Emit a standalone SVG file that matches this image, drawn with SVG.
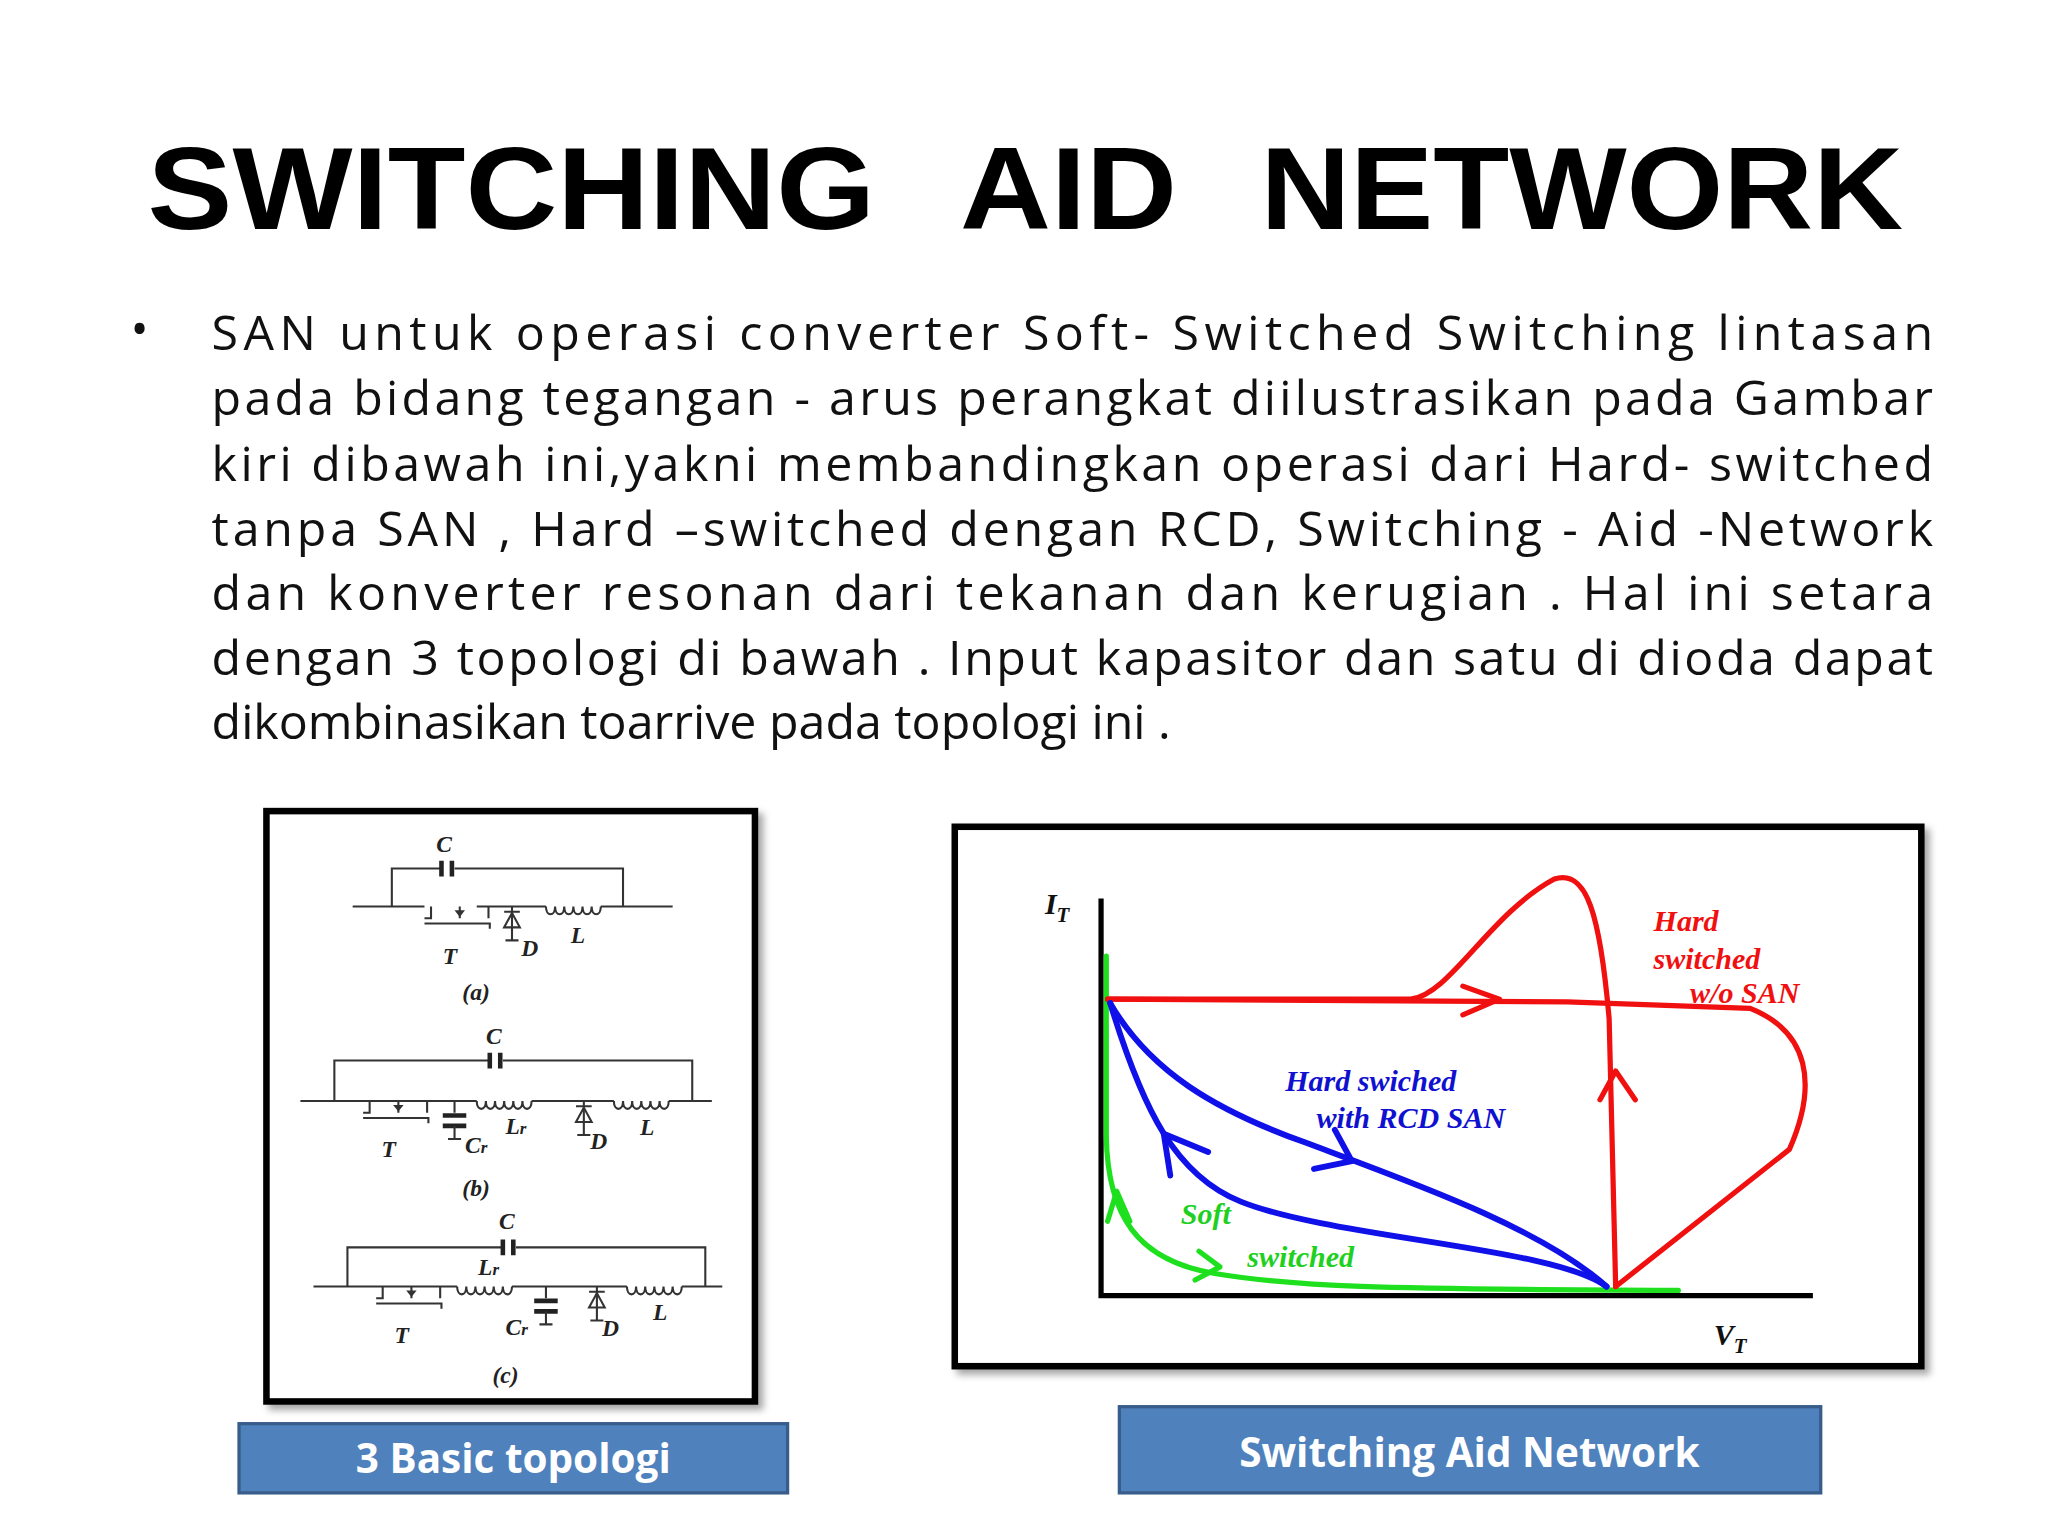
<svg xmlns="http://www.w3.org/2000/svg" width="2048" height="1536" viewBox="0 0 2048 1536">
<defs>
<style>
.w{fill:none;stroke:#333;stroke-width:1.6}
.lab{font-family:"Liberation Serif",serif;font-style:italic;font-weight:bold;font-size:18px;fill:#222}
.body{font-family:"Open Sans","DejaVu Sans",sans-serif;font-size:37px;fill:#111}
.cap{font-family:"Open Sans","Liberation Sans",sans-serif;font-weight:bold;font-size:31px;fill:#fff;text-anchor:middle}
.cl{font-family:"Liberation Serif",serif;font-style:italic;font-weight:bold;font-size:23px}
.tt{font-family:"Liberation Sans",Arial,sans-serif;font-weight:bold;font-size:90px;fill:#000}
.r{fill:none;stroke:#f01010;stroke-width:4;stroke-linecap:round;stroke-linejoin:round}
.b{fill:none;stroke:#1010e8;stroke-width:4.5;stroke-linecap:round;stroke-linejoin:round}
.g{fill:none;stroke:#1ee01e;stroke-width:4;stroke-linecap:round;stroke-linejoin:round}
</style>
<g id="ind"><path class="w" d="M0,0 c0,8 7,8 7,0 c0,8 7,8 7,0 c0,8 7,8 7,0 c0,8 7,8 7,0 c0,8 7,8 7,0 c0,8 7,8 7,0"/></g>
<g id="tr"><path class="w" d="M0,0 v9 h-5 M22,0 v9 M44,0 v9 M-5,13 h50 v4"/><path d="M18,3 h8 l-4,5z" fill="#333"/></g>
<g id="di"><path class="w" d="M0,0 v26 M-5,26 h10 M-6,4 h12"/><path class="w" d="M-6,16 L0,5 L6,16z"/></g>
<g id="cp"><path d="M-5,-6 v12 M3,-6 v12" stroke="#222" stroke-width="3.5"/></g>
<g id="cv"><path d="M-9,-4 h18 M-9,4 h18" stroke="#222" stroke-width="3.5"/></g>
<filter id="sh" x="-5%" y="-5%" width="115%" height="115%"><feDropShadow dx="4" dy="4" stdDeviation="3" flood-opacity="0.35"/></filter>
</defs>
<rect width="2048" height="1536" fill="#fff"/>
<g transform="scale(1.30612)">
<g id="title"><text class="tt" x="113" y="175" textLength="557" lengthAdjust="spacingAndGlyphs">SWITCHING</text><text class="tt" x="735" y="175" textLength="166" lengthAdjust="spacingAndGlyphs">AID</text><text class="tt" x="965" y="175" textLength="492" lengthAdjust="spacingAndGlyphs">NETWORK</text></g>
<g id="bullet" class="body">
<text x="100" y="265">•</text>
<text x="162" y="268" textLength="1318" lengthAdjust="spacing">SAN untuk operasi converter Soft- Switched Switching lintasan</text>
<text x="162" y="318" textLength="1318" lengthAdjust="spacing">pada bidang tegangan - arus perangkat diilustrasikan pada Gambar</text>
<text x="162" y="368" textLength="1318" lengthAdjust="spacing">kiri dibawah ini,yakni  membandingkan operasi dari Hard- switched</text>
<text x="162" y="418" textLength="1318" lengthAdjust="spacing">tanpa SAN , Hard –switched dengan RCD, Switching - Aid -Network</text>
<text x="162" y="467" textLength="1318" lengthAdjust="spacing">dan konverter resonan dari tekanan dan kerugian . Hal ini setara</text>
<text x="162" y="517" textLength="1318" lengthAdjust="spacing">dengan 3 topologi di bawah . Input kapasitor dan satu di dioda dapat</text>
<text x="162" y="566">dikombinasikan toarrive pada topologi ini .</text>
</g>
<g id="topologies">
<rect x="204" y="621" width="374" height="452" fill="#fff" stroke="#000" stroke-width="5" filter="url(#sh)"/>
<path class="w" d="M270,694 H325 M365,694 H418 M460,694 H515 M300,694 V665 H338 M348,665 H477 V694"/>
<use href="#cp" x="343" y="665"/><use href="#tr" x="330" y="694"/><use href="#di" x="392" y="694"/><use href="#ind" x="418" y="694"/>
<text class="lab" x="334" y="652">C</text><text class="lab" x="339" y="738">T</text><text class="lab" x="399" y="732">D</text><text class="lab" x="437" y="722">L</text><text class="lab" x="354" y="766">(a)</text>
<path class="w" d="M230,843 H365 M407,843 H470 M512,843 H545 M256,843 V812 H375 M385,812 H530 V843 M348,843 V852"/>
<use href="#cp" x="380" y="812"/><use href="#tr" x="283" y="843"/><use href="#cv" x="348" y="858"/><path class="w" d="M348,862 v10 M343,872 h10"/><use href="#ind" x="365" y="843"/><use href="#di" x="447" y="843"/><use href="#ind" x="470" y="843"/>
<text class="lab" x="372" y="799">C</text><text class="lab" x="292" y="886">T</text><text class="lab" x="356" y="883">C<tspan font-size="13">r</tspan></text><text class="lab" x="387" y="868">L<tspan font-size="13">r</tspan></text><text class="lab" x="452" y="880">D</text><text class="lab" x="490" y="869">L</text><text class="lab" x="354" y="916">(b)</text>
<path class="w" d="M240,985 H350 M392,985 H480 M522,985 H553 M266,985 V955 H385 M395,955 H540 V985 M418,985 V994"/>
<use href="#cp" x="390" y="955"/><use href="#tr" x="293" y="985"/><use href="#ind" x="350" y="985"/><use href="#cv" x="418" y="1000"/><path class="w" d="M418,1004 v10 M413,1014 h10"/><use href="#di" x="457" y="985"/><use href="#ind" x="480" y="985"/>
<text class="lab" x="382" y="941">C</text><text class="lab" x="366" y="976">L<tspan font-size="13">r</tspan></text><text class="lab" x="302" y="1028">T</text><text class="lab" x="387" y="1022">C<tspan font-size="13">r</tspan></text><text class="lab" x="461" y="1023">D</text><text class="lab" x="500" y="1011">L</text><text class="lab" x="377" y="1059">(c)</text>
</g>
<g id="plot">
<rect x="731" y="633" width="740" height="413" fill="#fff" stroke="#000" stroke-width="5" filter="url(#sh)"/>
<path d="M843,688 V992 H1388" fill="none" stroke="#000" stroke-width="4"/>
<text class="cl" x="800" y="700" fill="#111">I<tspan font-size="16" dy="6">T</tspan></text>
<text class="cl" x="1312" y="1030" fill="#111">V<tspan font-size="16" dy="6">T</tspan></text>
<path class="g" d="M847,732 V870 C848,930 870,965 930,975 C990,985 1050,987 1285,988"/>
<path class="g" d="M848,935 L855,912 L865,935 M918,958 L934,970 L915,980"/>
<path class="r" d="M848,765 H1080 C1110,762 1140,700 1190,673 C1215,665 1225,700 1232,780 L1237,985"/>
<path class="r" d="M848,765 L1200,767 L1340,772 C1385,790 1392,830 1370,880 L1237,985"/>
<path class="r" d="M1120,755 L1148,765 L1120,777 M1225,842 L1237,820 L1252,842"/>
<path class="b" d="M850,768 C880,820 930,850 1000,875 C1080,905 1180,940 1230,985"/>
<path class="b" d="M850,768 C875,850 900,900 950,920 C1020,948 1190,955 1230,985"/>
<path class="b" d="M1006,895 L1035,889 L1022,865 M925,882 L891,868 L896,900"/>
<g class="cl" fill="#f01010"><text x="1266" y="713">Hard</text><text x="1266" y="742">switched</text><text x="1294" y="768">w/o SAN</text></g>
<g class="cl" fill="#1010d0"><text x="984" y="835">Hard swiched</text><text x="1008" y="864">with RCD SAN</text></g>
<g class="cl" fill="#20d020"><text x="904" y="937">Soft</text><text x="955" y="970">switched</text></g>
</g>
<g id="cap1"><rect x="183" y="1090" width="420" height="53" fill="#4f81bd" stroke="#385d8a" stroke-width="2.5"/><text class="cap" x="393" y="1128">3 Basic topologi</text></g>
<g id="cap2"><rect x="857" y="1077" width="537" height="66" fill="#4f81bd" stroke="#385d8a" stroke-width="2.5"/><text class="cap" x="1125" y="1123">Switching Aid Network</text></g>
</g>
</svg>
